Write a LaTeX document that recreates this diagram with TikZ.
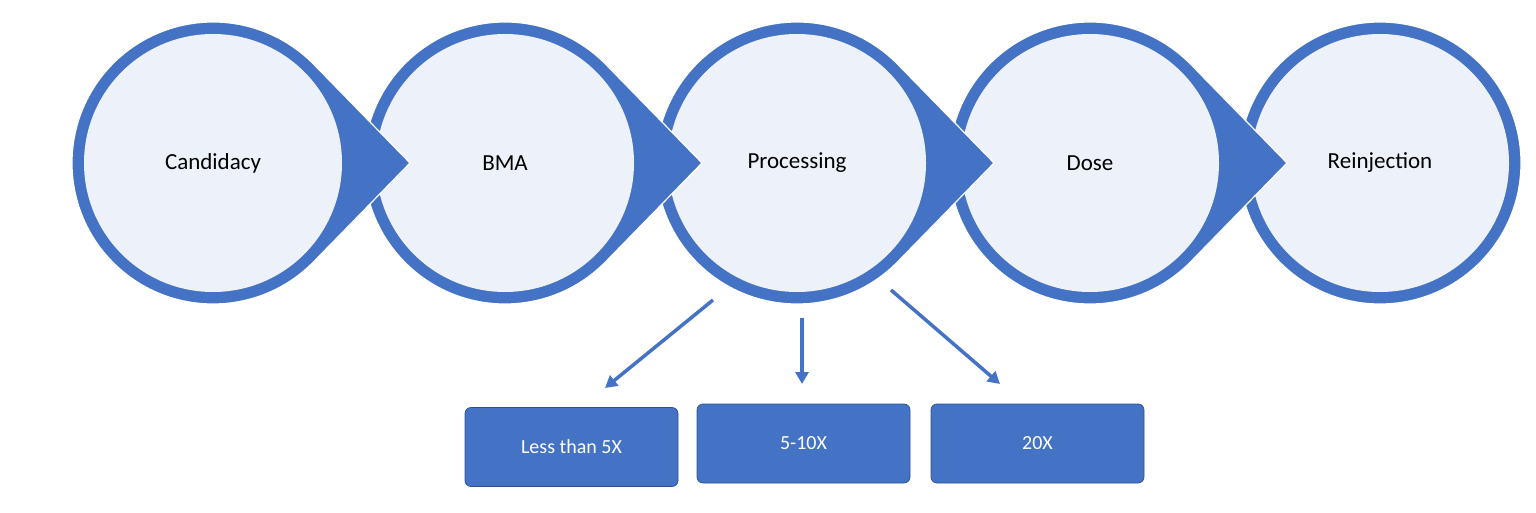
\documentclass[tikz,border=0pt]{standalone}
\usepackage{fontspec}
\setmainfont{Carlito}
\usetikzlibrary{calc,arrows.meta}
\definecolor{stepblue}{RGB}{68,114,196}
\definecolor{steplight}{RGB}{237,241,250}
\definecolor{boxedge}{RGB}{47,82,143}
\tikzset{every picture/.style={line width=0.75pt}}
\tikzset{
  stage/.style={circle, fill=steplight, minimum size=258pt, inner sep=0pt, font=\fontsize{23}{27}\selectfont},
  ring/.style={fill=stepblue, draw=white, line width=1.2pt},
  result/.style={draw=boxedge, fill=stepblue, rounded corners=6pt, minimum width=213pt, minimum height=79pt, text=white, font=\fontsize{20}{24}\selectfont},
  branch/.style={draw=stepblue, line width=3.5pt, -{Triangle[length=12pt,width=13pt]}}
}
\begin{document}
\begin{tikzpicture}[x=1pt,y=1pt]
\useasboundingbox (0,0) rectangle (1536,512);

%Stages, drawn right to left so each tip lies over the next circle
\foreach \cx/\name/\txt/\tip in {1380/s5/Reinjection/0, 1090/s4/Dose/1, 797/s3/Processing/1, 505/s2/BMA/1, 213/s1/Candidacy/1} {
  \coordinate (c\name) at (\cx,349);
  \ifnum\tip=1
    \path[ring] ($(c\name)+(44:141)$) -- ($(c\name)+(197,0)$) -- ($(c\name)+(-44:141)$) arc[start angle=-44, end angle=-316, radius=141] -- cycle;
  \else
    \path[ring] (c\name) circle[radius=141];
  \fi
  \node[stage] (\name) at (c\name) {\txt};
}

%Outcome boxes
\node[result] (low) at (571.5,65) {Less than 5X};
\node[result] (mid) at (803.5,68.5) {5-10X};
\node[result] (high) at (1037.5,68.5) {20X};

%Branches
\coordinate (b1) at (713,212);
\coordinate (b2) at (802,194);
\coordinate (b3) at (891,222);
\coordinate (e1) at (605,124);
\coordinate (e2) at (802,128);
\coordinate (e3) at (1000,128);
\draw[branch] (b1) -- (e1);
\draw[branch] (b2) -- (e2);
\draw[branch] (b3) -- (e3);
\end{tikzpicture}
\end{document}
